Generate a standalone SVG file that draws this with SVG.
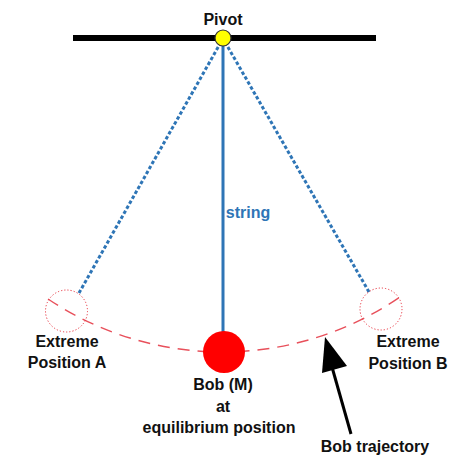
<svg xmlns="http://www.w3.org/2000/svg" width="474" height="470" viewBox="0 0 474 470">
<defs>
<style>
.t{font-family:"Liberation Sans",Arial,sans-serif;font-weight:bold;font-size:16px;fill:#111;text-anchor:middle}
.dot{stroke:#2e75b6;stroke-width:3;stroke-dasharray:3.5 2.2;fill:none}
.ghost{fill:none;stroke:#e8333f;stroke-width:1;stroke-dasharray:1.2 2}
</style>
</defs>
<rect width="474" height="470" fill="#fff"/>
<g id="support">
<rect x="73" y="35" width="303" height="6" fill="#000"/>
<text class="t" x="223" y="25">Pivot</text>
</g>
<g id="connectors">
<line class="dot" x1="221" y1="42" x2="79" y2="293"/>
<line class="dot" x1="225" y1="42" x2="369" y2="292"/>
<line x1="223" y1="42" x2="223" y2="333" stroke="#2e75b6" stroke-width="3"/>
<path d="M48,299 A314,314 0 0 0 400,297" fill="none" stroke="#e8505b" stroke-width="1.4" stroke-dasharray="12 8"/>
<line x1="351" y1="434" x2="330" y2="360" stroke="#000" stroke-width="3"/>
<polygon points="325,337 322,373 347,366" fill="#000"/>
</g>
<g id="pivot">
<circle cx="223" cy="38" r="8" fill="#ffff00" stroke="#333" stroke-width="1.2"/>
</g>
<g id="string-label">
<text class="t" x="248" y="218" style="fill:#2e75b6">string</text>
</g>
<g id="posA">
<circle class="ghost" cx="66.5" cy="311" r="21"/>
<text class="t" x="67" y="347">Extreme</text>
<text class="t" x="67" y="368">Position A</text>
</g>
<g id="posB">
<circle class="ghost" cx="381" cy="309" r="21"/>
<text class="t" x="408" y="347">Extreme</text>
<text class="t" x="408" y="369">Position B</text>
</g>
<g id="bob">
<circle cx="224" cy="352" r="21" fill="#ff0000"/>
<text class="t" x="223" y="390">Bob (M)</text>
<text class="t" x="223" y="412">at</text>
<text class="t" x="219" y="433">equilibrium position</text>
</g>
<g id="trajectory-label">
<text class="t" x="375" y="452">Bob trajectory</text>
</g>
</svg>
